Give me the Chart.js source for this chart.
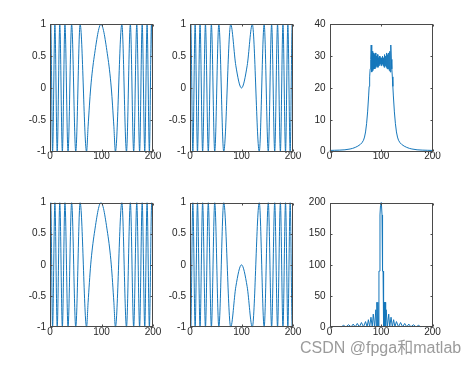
<!DOCTYPE html>
<html>
<head>
<meta charset="utf-8">
<script src="https://cdn.jsdelivr.net/npm/chart.js@4.4.1/dist/chart.umd.min.js"></script>
<style>
  html, body { margin: 0; padding: 0; background: #fff; }
  #fig { position: relative; width: 474px; height: 365px; overflow: hidden; background: #fff; }
  #fig canvas { position: absolute; left: 0; top: 0; }
  #mark {
    position: absolute; left: 300px; top: 340px;
    font-family: "Liberation Sans", "Noto Sans CJK SC", sans-serif;
    font-size: 16px; line-height: 16px; color: #9b9b9b; white-space: nowrap;
  }
</style>
</head>
<body>
<div id="fig">
  <canvas id="p1" width="474" height="365"></canvas>
  <canvas id="p2" width="474" height="365"></canvas>
  <canvas id="p3" width="474" height="365"></canvas>
  <canvas id="p4" width="474" height="365"></canvas>
  <canvas id="p5" width="474" height="365"></canvas>
  <canvas id="p6" width="474" height="365"></canvas>
  <div id="mark">CSDN @fpga和matlab</div>
</div>
<script>
// tick labels
var X_TICKS = [0, 100, 200];
var WAVE_TICKS = [-1, -0.5, 0, 0.5, 1];
var SPEC_A_TICKS = [0, 10, 20, 30, 40];
var SPEC_B_TICKS = [0, 50, 100, 150, 200];

// top left: chirp (turning points)
var chirpX = [0, 1.5, 5, 9.5, 14, 19, 24, 29, 35, 42, 50, 58.5, 71, 74, 79, 86, 99,
  112, 119, 124, 127, 139.5, 148.5, 156, 162.5, 168.5, 174, 179, 184, 188.5, 193, 197, 200];
var chirpY = [0.4, 1, -1, 1, -1, 1, -1, 1, -1, 1, -1, 1, -1, -0.6, 0, 0.5, 1,
  0.5, 0, -0.6, -1, 1, -1, 1, -1, 1, -1, 1, -1, 1, -1, 1, 0];

// top middle: shifted chirp
var shiftX = [0, 1.5, 5.5, 10, 14.5, 19.5, 24.5, 30, 35.5, 41.5, 48, 56, 65.5, 79, 89, 100,
  111, 121, 134.5, 144, 152, 158.5, 164.5, 170, 175.5, 180.5, 185.5, 190, 194.5, 198.5, 200];
var shiftY = [0.3, 1, -1, 1, -1, 1, -1, 1, -1, 1, -1, 1, -1, 1, 0.35, 0,
  0.35, 1, -1, 1, -1, 1, -1, 1, -1, 1, -1, 1, -1, 1, 0.7];

// top right: spectrum of the chirp
var specAX = [0, 10, 20, 30, 40, 45, 50, 55, 60, 63, 66, 68, 70, 72, 74, 76, 77, 78, 79, 80, 81,
  82, 83, 84, 85, 86, 87, 88, 89, 90, 91, 92, 93, 94, 95, 96, 97, 98, 99, 100,
  101, 102, 103, 104, 105, 106, 107, 108, 109, 110, 111, 112, 113, 114, 115, 116, 117, 118,
  119, 120, 121, 122, 123, 124, 126, 128, 130, 132, 134, 137, 140, 145, 150, 155, 160, 170, 180, 190, 200];
var specAY = [0.4, 0.45, 0.5, 0.6, 0.85, 1.05, 1.35, 1.75, 2.3, 2.8, 3.6, 4.6, 6.2, 8.8, 12.5, 17.5, 20.5, 23.5, 26, 29, 33.5,
  25, 31.5, 25.5, 31, 26, 30.5, 26, 31, 26.5, 30, 27, 30.5, 26.5, 29.5, 27, 30, 27.5, 29.5, 27,
  29.5, 27.5, 30, 27, 29.5, 26.5, 30.5, 27, 30, 26.5, 31, 26, 30.5, 26, 31, 25.5, 31.5, 25,
  33.5, 29, 26, 23.5, 20.5, 17.5, 12.5, 8.8, 6.2, 4.6, 3.6, 2.8, 2.3, 1.75, 1.35, 1.05, 0.85, 0.6, 0.5, 0.45, 0.4];

// bottom left: recovered chirp
var recX = [0, 1.5, 5, 9.5, 14, 19, 24, 29, 35, 42, 50, 58.5, 71, 74, 79, 86, 99,
  112, 119, 124, 127, 139.5, 148.5, 156, 162.5, 168.5, 174, 179, 184, 188.5, 193, 197.5, 200];
var recY = [0.5, 1, -1, 1, -1, 1, -1, 1, -1, 1, -1, 1, -1, -0.6, 0, 0.5, 1,
  0.5, 0, -0.6, -1, 1, -1, 1, -1, 1, -1, 1, -1, 1, -1, 1, 0.6];

// bottom middle: inverted shifted chirp
var invX = [0, 1.5, 5.5, 10, 14.5, 19.5, 24.5, 30, 35.5, 41.5, 48, 56, 65.5, 79, 89, 100,
  111, 121, 134.5, 144, 152, 158.5, 164.5, 170, 175.5, 180.5, 185.5, 190, 194.5, 198.5, 200];
var invY = [-0.3, -1, 1, -1, 1, -1, 1, -1, 1, -1, 1, -1, 1, -1, -0.35, 0,
  -0.35, -1, 1, -1, 1, -1, 1, -1, 1, -1, 1, -1, 1, -1, -0.7];

// bottom right: compressed pulse spectrum
var specBX = [0, 10, 20, 23, 27, 32, 37, 42, 46, 50, 54, 58, 62, 66, 70, 73, 75.5, 78, 80.5, 83, 85, 87.5,
  90, 91, 92, 93, 94, 95, 96, 97, 98, 99, 100,
  101, 102, 103, 104, 105, 106, 107, 108, 109, 110,
  112.5, 115, 117, 119.5, 122, 124.5, 127, 130, 134, 138, 142, 146, 150, 154, 158, 163, 168, 173, 177, 180, 190, 200];
var specBY = [1, 1, 1, 0.5, 3, 0.5, 4, 0.5, 5, 0.5, 6, 0.5, 7.5, 0.5, 9, 0.5, 12, 0.5, 16, 0.5, 21, 0.5,
  28, 1, 40, 2, 40, 1, 90, 90, 180, 195, 200,
  195, 180, 90, 90, 1, 40, 2, 40, 1, 28,
  0.5, 21, 0.5, 16, 0.5, 12, 0.5, 9, 0.5, 7.5, 0.5, 6, 0.5, 5, 0.5, 4, 0.5, 3, 0.5, 1, 1, 1];

var FONT = '"Liberation Sans", Arial, Helvetica, sans-serif';
var LINE = '#1677bb';
var AXIS = '#4a4a4a';
var TXT = '#262626';
var Y_W = 40, X_H = 15, TICK = 2;

var COLS = [[50, 153], [190, 293], [329.5, 432.5]];
var ROWS = [[24.3, 151.7], [202.5, 327.2]];

var boxPlugin = {
  id: 'matlabBox',
  afterDraw: function(chart) {
    var ctx = chart.ctx, a = chart.chartArea, sx = chart.scales.x, sy = chart.scales.y;
    var l = Math.round(a.left) + 0.5, r = Math.round(a.right) - 0.5;
    var t = Math.round(a.top) + 0.5, b = Math.round(a.bottom) - 0.5;
    ctx.save();
    ctx.strokeStyle = AXIS;
    ctx.lineWidth = 1;
    ctx.strokeRect(l, t, r - l, b - t);
    ctx.beginPath();
    sx.ticks.forEach(function(tk) {
      var px = Math.round(sx.getPixelForValue(tk.value)) + 0.5;
      ctx.moveTo(px, b); ctx.lineTo(px, b - TICK);
      ctx.moveTo(px, t); ctx.lineTo(px, t + TICK);
    });
    sy.ticks.forEach(function(tk) {
      var py = Math.round(sy.getPixelForValue(tk.value)) + 0.5;
      ctx.moveTo(l, py); ctx.lineTo(l + TICK, py);
      ctx.moveTo(r, py); ctx.lineTo(r - TICK, py);
    });
    ctx.stroke();
    ctx.restore();
  }
};

function panel(id, xs, ys, yTicks, col, row, smooth) {
  var pts = xs.map(function(x, i) { return { x: x, y: ys[i] }; });
  var box = [COLS[col][0], ROWS[row][0], COLS[col][1], ROWS[row][1]];
  var tickFont = { family: FONT, size: 10, lineHeight: 1 };
  var label = function(v) { return String(v); };

  new Chart(document.getElementById(id), {
    type: 'scatter',
    data: {
      datasets: [{
        data: pts,
        showLine: true,
        borderColor: LINE,
        borderWidth: 1,
        pointRadius: 0,
        fill: false,
        tension: 0,
        cubicInterpolationMode: smooth ? 'monotone' : 'default'
      }]
    },
    options: {
      responsive: false,
      animation: false,
      events: [],
      layout: {
        padding: { left: box[0] - Y_W, top: box[1], right: 474 - box[2], bottom: 365 - box[3] - X_H }
      },
      plugins: { legend: { display: false }, tooltip: { enabled: false } },
      scales: {
        x: {
          type: 'linear', min: 0, max: 200,
          grid: { display: false, drawTicks: false },
          border: { display: false },
          ticks: { font: tickFont, color: TXT, padding: 0, maxRotation: 0, autoSkip: false, callback: label },
          afterBuildTicks: function(s) { s.ticks = X_TICKS.map(function(v) { return { value: v }; }); },
          afterFit: function(s) { s.height = X_H; }
        },
        y: {
          type: 'linear', min: yTicks[0], max: yTicks[yTicks.length - 1],
          grid: { display: false, drawTicks: false },
          border: { display: false },
          ticks: { font: tickFont, color: TXT, padding: 4, autoSkip: false, callback: label },
          afterBuildTicks: function(s) { s.ticks = yTicks.map(function(v) { return { value: v }; }); },
          afterFit: function(s) { s.width = Y_W; }
        }
      }
    },
    plugins: [boxPlugin]
  });
}

panel('p1', chirpX, chirpY, WAVE_TICKS, 0, 0, true);
panel('p2', shiftX, shiftY, WAVE_TICKS, 1, 0, true);
panel('p3', specAX, specAY, SPEC_A_TICKS, 2, 0, false);
panel('p4', recX, recY, WAVE_TICKS, 0, 1, true);
panel('p5', invX, invY, WAVE_TICKS, 1, 1, true);
panel('p6', specBX, specBY, SPEC_B_TICKS, 2, 1, false);
</script>
</body>
</html>
